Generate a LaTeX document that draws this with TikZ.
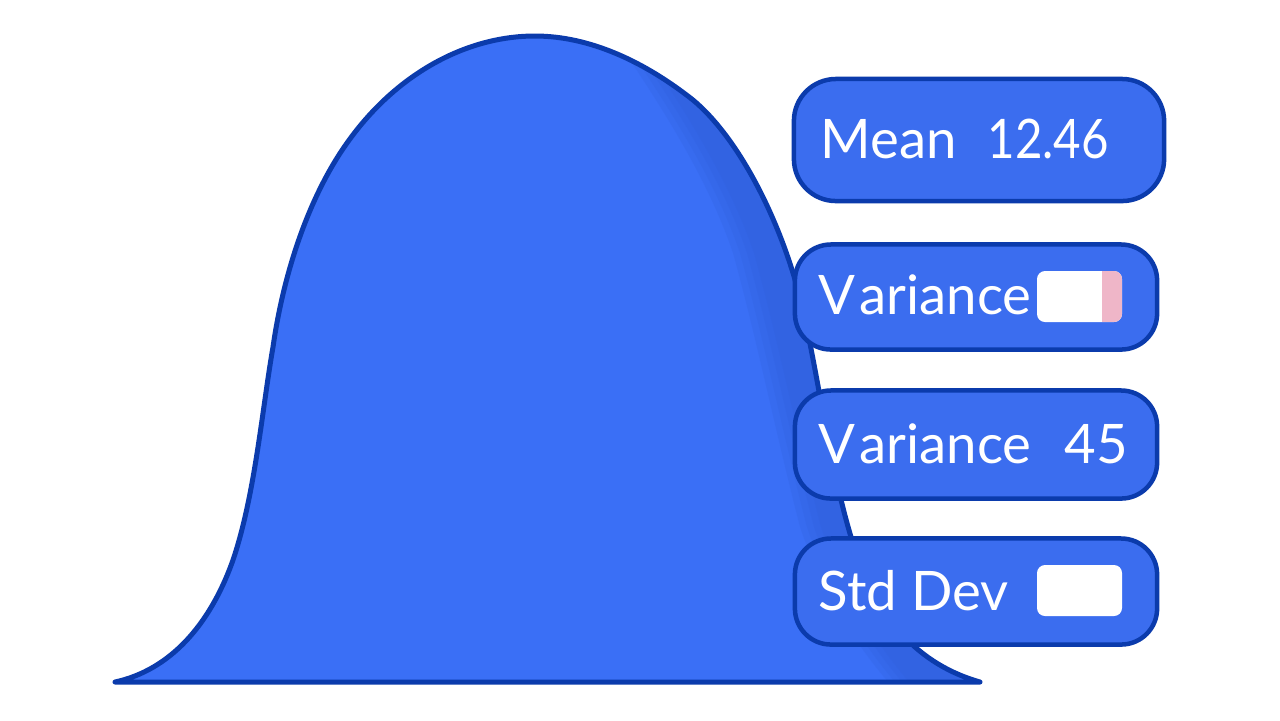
\documentclass[tikz,border=0pt]{standalone}
\usepackage{fontspec}
\setmainfont{Lato}
\definecolor{bellblue}{HTML}{3A6FF6}
\definecolor{bellshade}{HTML}{2F5CD6}
\definecolor{boxblue}{HTML}{3B6DEF}
\definecolor{rimblue}{HTML}{0B3BAC}
\definecolor{barpink}{HTML}{EFB6C8}
\newcommand{\bellpath}{(115,682) .. controls (170,670) and (210,625) .. (233,560)
  .. controls (255,495) and (262,410) .. (273,347)
  .. controls (284,270) and (310,195) .. (347,143)
  .. controls (395,75) and (465,36) .. (535,36)
  .. controls (590,36) and (645,62) .. (693,100)
  .. controls (735,135) and (772,205) .. (793,273)
  .. controls (815,345) and (825,450) .. (851,537)
  .. controls (875,620) and (920,665) .. (980,682) -- cycle}
\tikzset{
  statbox/.style={draw=rimblue,fill=boxblue,line width=0.045cm,rounded corners=0.36cm,minimum width=3.62cm},
  statlabel/.style={text=white,anchor=base west,inner sep=0pt,font=\fontsize{15.5}{18}\selectfont},
  swatch/.style={fill=white,rounded corners=0.08cm}
}
\begin{document}
\begin{tikzpicture}[x=0.01cm,y=-0.01cm]
\useasboundingbox (0,0) rectangle (1280,720);
\fill[white] (0,0) rectangle (1280,720);
\fill[bellblue] \bellpath;
\begin{scope}
\clip \bellpath;
\foreach \off in {0,7,14,21}
  \fill[bellshade,opacity=0.2,xshift=\off*0.01cm] (610,30) .. controls (650,90) and (705,170) .. (733,253)
    .. controls (757,340) and (775,430) .. (800,527) .. controls (825,600) and (860,650) .. (895,690)
    -- (1000,690) -- (1000,30) -- cycle;
\end{scope}
\draw[rimblue,line width=0.05cm,line join=round,line cap=round] \bellpath;
\node[statbox,minimum width=3.7cm,minimum height=1.22cm,rounded corners=0.42cm] (meanbox) at (979,140) {};
\node[statbox,minimum height=1.05cm] (varbarbox) at (976,297) {};
\node[statbox,minimum height=1.08cm] (varbox) at (976,444.5) {};
\node[statbox,minimum height=1.06cm] (stdbox) at (976,591.5) {};
\node[statlabel] (meanlabel) at (820,158) {Mean};
\node[statlabel] (meanvalue) at (987,158) {\addfontfeature{FakeStretch=0.87}12.46};
\node[statlabel] (varbarlabel) at (818,314) {V\kern1.2pt ariance};
\node[statlabel] (varlabel) at (818,463) {V\kern1.2pt ariance};
\node[statlabel] (varvalue) at (1064,463) {45};
\node[statlabel] (stdlabel) at (818,610) {Std Dev};
\fill[swatch] (1037,271) rectangle (1122,322);
\begin{scope}
\clip[rounded corners=0.08cm] (1037,271) rectangle (1122,322);
\fill[barpink] (1102,271) rectangle (1122,322);
\end{scope}
\fill[swatch] (1037,565) rectangle (1122,616);
\end{tikzpicture}
\end{document}
